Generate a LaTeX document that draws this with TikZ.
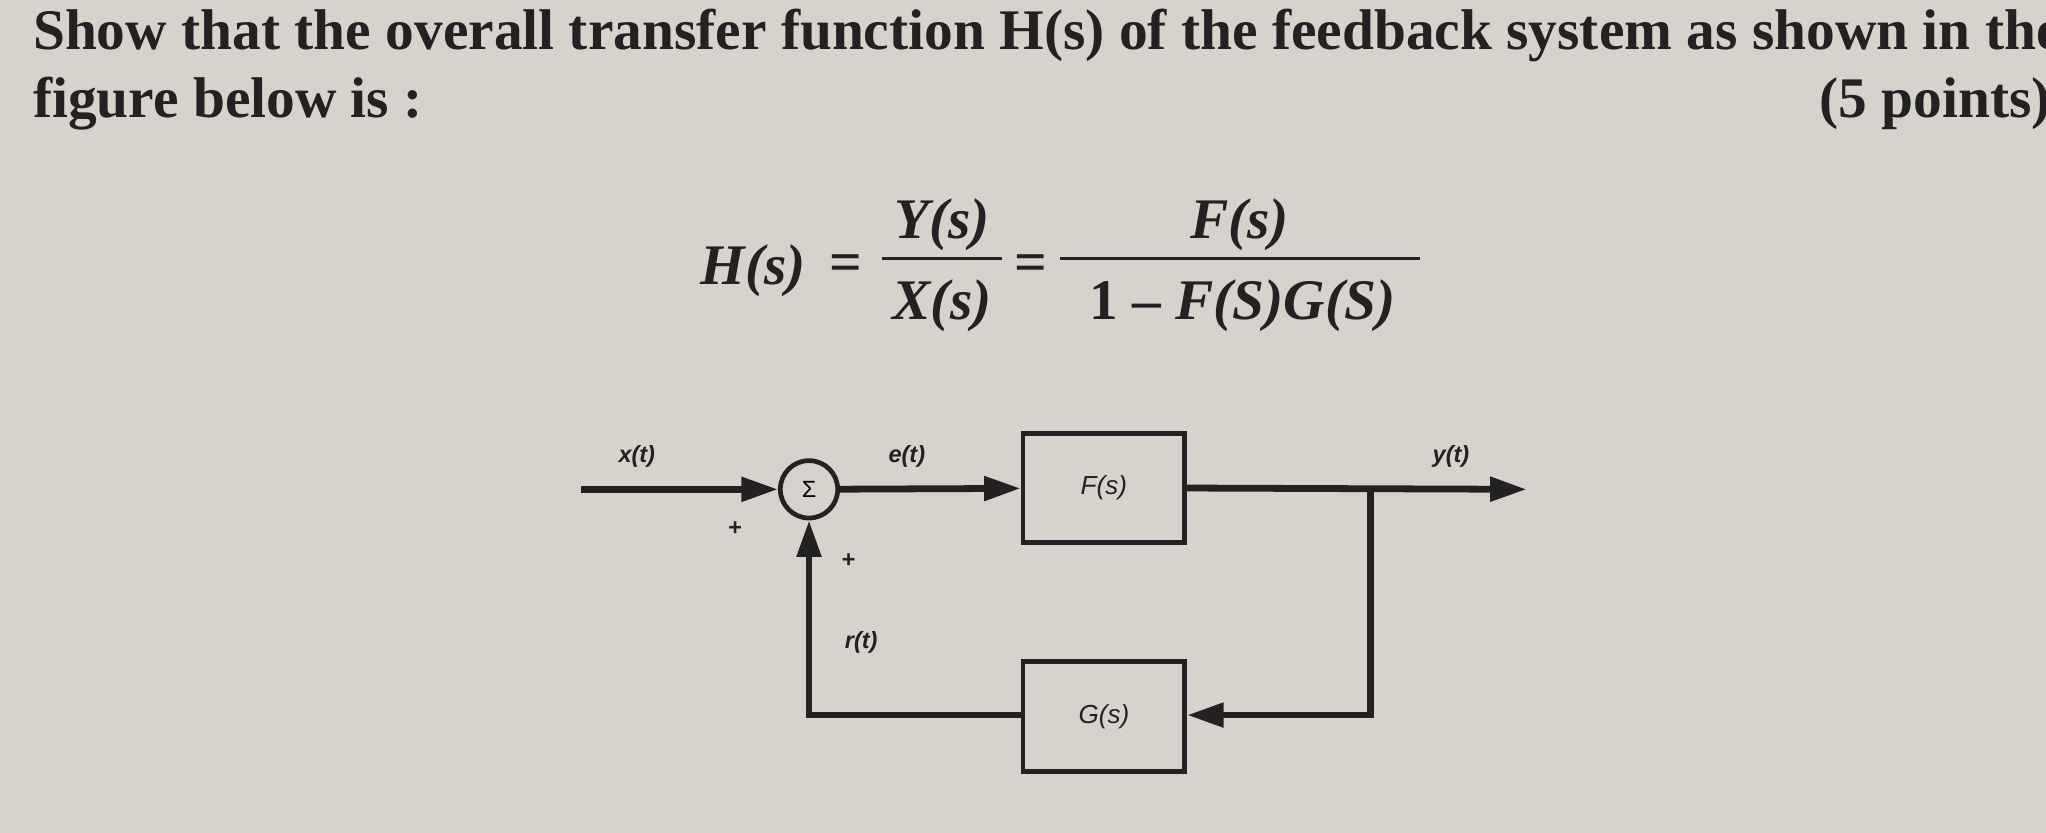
\documentclass[tikz,border=0pt]{standalone}
\usepackage{fontspec}
\setmainfont{Liberation Serif}
\newfontfamily\diagfont{Liberation Sans}
\usetikzlibrary{arrows.meta}
\definecolor{paper}{RGB}{214,211,204}
\definecolor{ink}{RGB}{35,33,33}
\begin{document}
\begin{tikzpicture}[x=0.5pt,y=-0.5pt,
  wire/.style={line width=2.6pt,ink},
  arr/.style={wire,-{Triangle[length=14pt,width=9pt]}},
  blk/.style={draw=ink,line width=1.8pt,minimum width=62pt,minimum height=42pt,font=\diagfont\fontsize{10}{12}\selectfont\itshape,text=ink},
  lbl/.style={font=\diagfont\bfseries\itshape\fontsize{9}{11}\selectfont,text=ink},
  ttl/.style={font=\bfseries\fontsize{22}{26}\selectfont,text=ink,inner sep=0pt},
  eqtext/.style={font=\bfseries\itshape\fontsize{22}{26}\selectfont,text=ink,inner sep=0pt},
  eqsym/.style={font=\bfseries\fontsize{22}{26}\selectfont,text=ink,inner sep=0pt}]
\fill[paper] (0,0) rectangle (1568,638);
\useasboundingbox (0,0) rectangle (1568,638);
\node[ttl,anchor=base west] (t1) at (25,38) {Show that the overall transfer function H(s) of the feedback system as shown in the};
\node[ttl,anchor=base west] (t2) at (25,90) {figure below is :};
\node[ttl,anchor=base east] (t3) at (1572,90) {(5 points)};
% equation
\node[eqtext,anchor=base east] (h) at (618,218) {H(s)};
\node[eqsym,anchor=base] (e1) at (648,216) {=};
\node[eqtext,anchor=base] (ys) at (722,183) {Y(s)};
\node[eqtext,anchor=base] (xs) at (722,245) {X(s)};
\draw[ink,line width=1.3pt] (676,198) -- (768,198);
\node[eqsym,anchor=base] (e2) at (790,216) {=};
\node[eqtext,anchor=base] (fs) at (950,183) {F(s)};
\node[eqtext,anchor=base] (den) at (952,245) {\upshape 1 – \itshape F(S)G(S)};
\draw[ink,line width=1.3pt] (812,198) -- (1088,198);
% diagram
\node[draw=ink,line width=1.8pt,circle,minimum size=22pt,inner sep=0pt,font=\diagfont\fontsize{9}{10}\selectfont] (sum) at (620,375) {Σ};
\node[blk] (F) at (846,374) {F(s)};
\node[blk] (G) at (846,549) {G(s)};
\coordinate (xin) at (445,375);
\coordinate (yout) at (1170,375);
\coordinate (j) at (1050,375);
\coordinate (jb) at (1050,548);
\coordinate (c) at (620,548);
\draw[arr] (xin) -- (sum);
\draw[arr] (sum) -- (F);
\draw[arr] (F.east) -- (yout);
\draw[arr] (j) -- (jb) -- (G.east |- jb);
\draw[arr] (G.west |- c) -- (c) -- (sum);
\node[lbl] (lx) at (488,350) {x(t)};
\node[lbl] (le) at (695,350) {e(t)};
\node[lbl] (ly) at (1112,350) {y(t)};
\node[lbl] (lr) at (660,492) {r(t)};
\node[lbl] (p1) at (563,405) {+};
\node[lbl] (p2) at (650,430) {+};
\end{tikzpicture}
\end{document}
